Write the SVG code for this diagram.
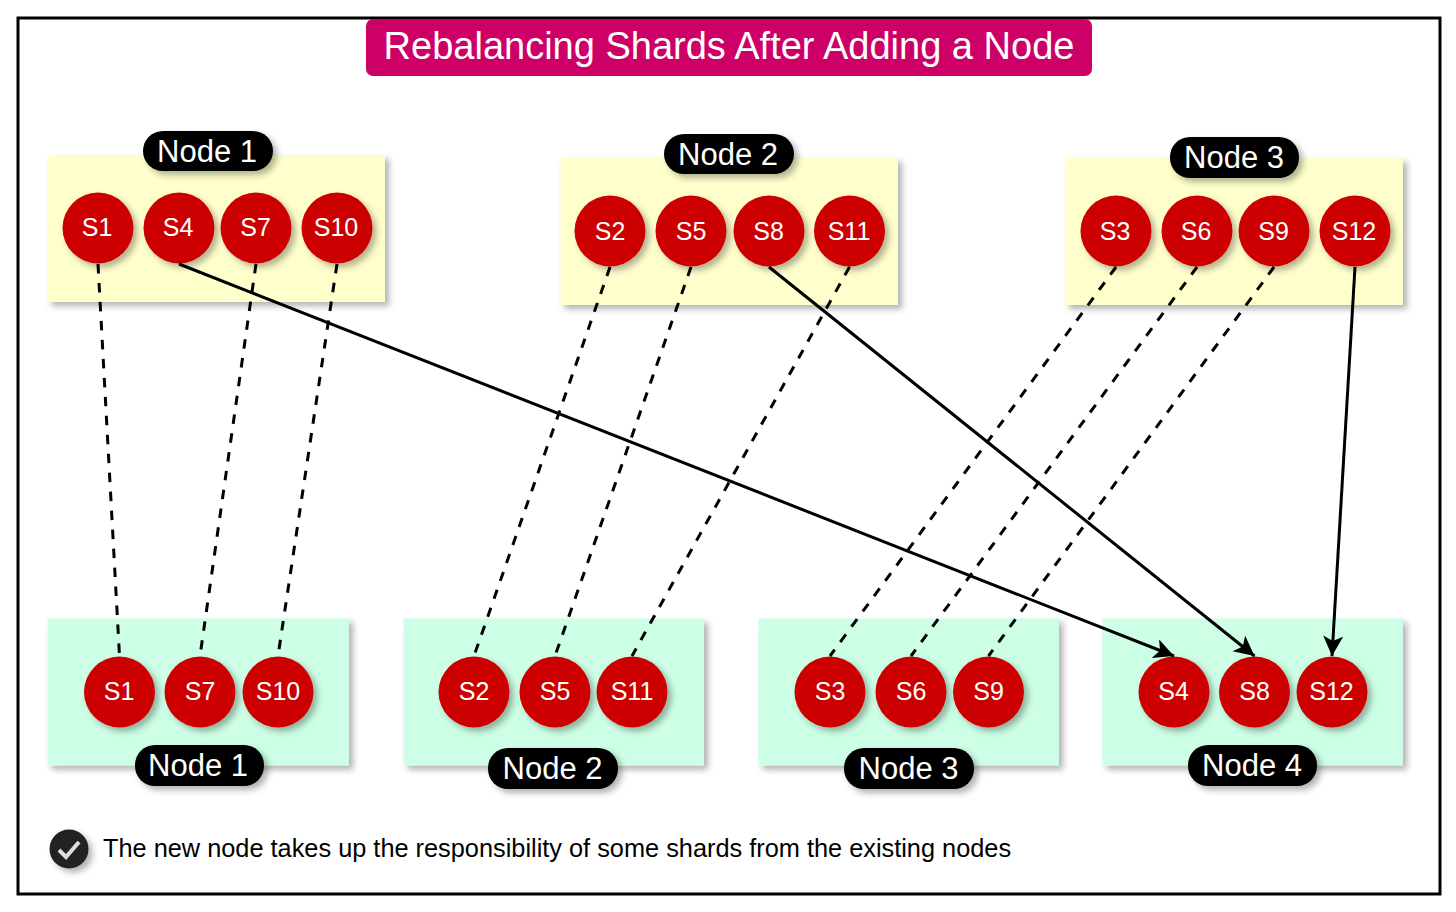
<svg xmlns="http://www.w3.org/2000/svg" width="1456" height="912" viewBox="0 0 1456 912">
<style>
text{font-family:"Liberation Sans",Arial,sans-serif;text-anchor:middle}
.box{filter:url(#sh)}
.y{fill:#ffffcc}
.g{fill:#ccffe6}
.pill{fill:#000;filter:url(#sh)}
.pt{fill:#fff;font-size:31px}
.c{fill:#cc0000;filter:url(#sh)}
.ct{fill:#fff;font-size:25px}
.d{fill:none;stroke:#000;stroke-width:3;stroke-dasharray:9.5 9.5}
.s{fill:none;stroke:#000;stroke-width:3;marker-end:url(#ah)}
</style>
<defs>
<filter id="sh" x="-20%" y="-20%" width="150%" height="150%"><feDropShadow dx="4" dy="4" stdDeviation="3" flood-color="#000" flood-opacity="0.3"/></filter>
<marker id="ah" markerUnits="userSpaceOnUse" markerWidth="24" markerHeight="22" refX="20" refY="10" orient="auto"><path d="M0 0L20 10L0 20L5 10Z" fill="#000"/></marker>
</defs>
<rect width="1456" height="912" fill="#fff"/>
<rect x="18" y="18" width="1422" height="876" fill="#fff" stroke="#000" stroke-width="3"/>
<g id="title"><rect x="366" y="19" width="726" height="57" rx="7" fill="#cc0066"/><text x="729" y="59" font-size="38" fill="#fff">Rebalancing Shards After Adding a Node</text></g>
<g id="old-node-1"><rect class="box y" x="47.500" y="155" width="337.500" height="147"/><rect class="pill" x="143" y="131" width="130" height="40" rx="20"/><text class="pt" x="207" y="162">Node 1</text>
<circle class="c" cx="98" cy="228" r="35.5"/><text class="ct" x="97" y="236">S1</text><circle class="c" cx="179" cy="228" r="35.5"/><text class="ct" x="178" y="236">S4</text><circle class="c" cx="256" cy="228" r="35.5"/><text class="ct" x="255.500" y="236">S7</text><circle class="c" cx="337" cy="228" r="35.500"/><text class="ct" x="336" y="236">S10</text></g>
<g id="old-node-2"><rect class="box y" x="560.500" y="158" width="337.500" height="147"/><rect class="pill" x="664" y="134" width="130" height="40" rx="20"/><text class="pt" x="728" y="165">Node 2</text>
<circle class="c" cx="610" cy="231" r="35.5"/><text class="ct" x="610" y="239.500">S2</text><circle class="c" cx="691" cy="231" r="35.5"/><text class="ct" x="691" y="239.500">S5</text><circle class="c" cx="769" cy="231" r="35.5"/><text class="ct" x="768.500" y="239.500">S8</text><circle class="c" cx="849.500" cy="231" r="35.5"/><text class="ct" x="849" y="239.500">S11</text></g>
<g id="old-node-3"><rect class="box y" x="1065.500" y="158" width="337.500" height="147"/><rect class="pill" x="1170" y="137" width="129" height="41" rx="20"/><text class="pt" x="1234" y="168">Node 3</text>
<circle class="c" cx="1116" cy="231" r="35.5"/><text class="ct" x="1115" y="239.500">S3</text><circle class="c" cx="1197" cy="231" r="35.5"/><text class="ct" x="1196" y="239.500">S6</text><circle class="c" cx="1274" cy="231" r="35.5"/><text class="ct" x="1273.500" y="239.500">S9</text><circle class="c" cx="1355" cy="231" r="35.5"/><text class="ct" x="1354" y="239.500">S12</text></g>
<g id="new-node-1"><rect class="box g" x="47.500" y="618.500" width="301.500" height="147"/><rect class="pill" x="135" y="745" width="129" height="41" rx="20"/><text class="pt" x="198" y="776">Node 1</text>
<circle class="c" cx="119.500" cy="692" r="35.5"/><text class="ct" x="119" y="700">S1</text><circle class="c" cx="200" cy="692" r="35.5"/><text class="ct" x="200" y="700">S7</text><circle class="c" cx="278" cy="692" r="35.5"/><text class="ct" x="278" y="700">S10</text></g>
<g id="new-node-2"><rect class="box g" x="403.500" y="618.500" width="300.500" height="147"/><rect class="pill" x="488" y="748" width="130" height="41" rx="20"/><text class="pt" x="552.500" y="779">Node 2</text>
<circle class="c" cx="474" cy="692" r="35.5"/><text class="ct" x="474" y="700">S2</text><circle class="c" cx="555" cy="692" r="35.5"/><text class="ct" x="555" y="700">S5</text><circle class="c" cx="632" cy="692" r="35.5"/><text class="ct" x="632" y="700">S11</text></g>
<g id="new-node-3"><rect class="box g" x="758.500" y="618.500" width="300.500" height="147"/><rect class="pill" x="844" y="748" width="130" height="41" rx="20"/><text class="pt" x="908.500" y="779">Node 3</text>
<circle class="c" cx="830" cy="692" r="35.5"/><text class="ct" x="830" y="700">S3</text><circle class="c" cx="911" cy="692" r="35.5"/><text class="ct" x="911" y="700">S6</text><circle class="c" cx="988.500" cy="692" r="35.5"/><text class="ct" x="988.500" y="700">S9</text></g>
<g id="new-node-4"><rect class="box g" x="1102.500" y="618.500" width="300.500" height="147"/><rect class="pill" x="1188" y="745" width="129" height="41" rx="20"/><text class="pt" x="1252" y="776">Node 4</text>
<circle class="c" cx="1174" cy="692" r="35.5"/><text class="ct" x="1173.500" y="700">S4</text><circle class="c" cx="1254.500" cy="692" r="35.5"/><text class="ct" x="1254.500" y="700">S8</text><circle class="c" cx="1332" cy="692" r="35.5"/><text class="ct" x="1331.500" y="700">S12</text></g>
<g id="connectors">
<path class="d" d="M98 264L119.500 656"/><path class="d" d="M256 264L200 656"/><path class="d" d="M337 264L278 656"/>
<path class="d" d="M610 267L474 656"/><path class="d" d="M691 267L555 656"/><path class="d" d="M849.500 267L632 656"/>
<path class="d" d="M1116 267L830 656"/><path class="d" d="M1197 267L911 656"/><path class="d" d="M1274 267L988.500 656"/>
<path class="s" d="M179 264L1174 656"/><path class="s" d="M769 267L1254.500 656"/><path class="s" d="M1355 267L1332 656"/>
</g>
<g id="note"><circle cx="69" cy="849" r="19.500" fill="#222" filter="url(#sh)"/><path d="M59 850L66 857L79 842" fill="none" stroke="#ddd" stroke-width="4"/><text x="103" y="857" font-size="25.330" style="text-anchor:start" fill="#000">The new node takes up the responsibility of some shards from the existing nodes</text></g>
</svg>
